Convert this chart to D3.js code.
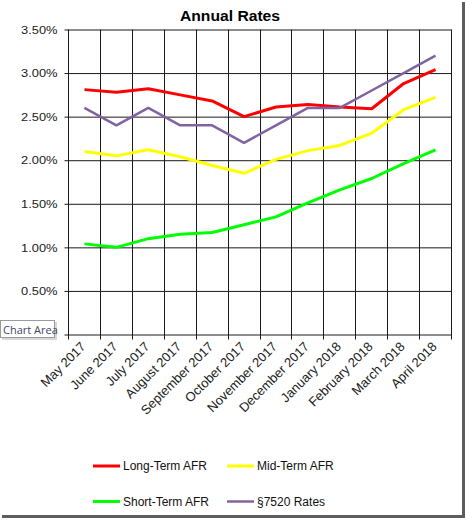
<!DOCTYPE html>
<html>
<head>
<meta charset="utf-8">
<script src="https://cdn.jsdelivr.net/npm/d3@7"></script>
<style>
  body { margin: 0; background: #fff; }
  svg { display: block; font-family: "Liberation Sans", Arial, sans-serif; }
</style>
</head>
<body>
<svg id="chart" width="466" height="520"></svg>
<script>
// Data (annual rates, %)
const months = ["May 2017", "June 2017", "July 2017", "August 2017", "September 2017",
  "October 2017", "November 2017", "December 2017", "January 2018", "February 2018",
  "March 2018", "April 2018"]
const longTerm = [2.81, 2.78, 2.82, 2.75, 2.68, 2.50, 2.61, 2.64, 2.61, 2.59, 2.88, 3.04]
const midTerm = [2.10, 2.05, 2.12, 2.04, 1.94, 1.85, 2.01, 2.11, 2.17, 2.31, 2.58, 2.72]
const shortTerm = [1.04, 1.00, 1.10, 1.15, 1.17, 1.26, 1.35, 1.51, 1.66, 1.79, 1.96, 2.12]
const rates7520 = [2.6, 2.4, 2.6, 2.4, 2.4, 2.2, 2.4, 2.6, 2.6, 2.8, 3.0, 3.2]
const yTicks = [0, 0.5, 1.0, 1.5, 2.0, 2.5, 3.0, 3.5]

const series = [
  {name: "Long-Term AFR", values: longTerm, color: "#ff0000", width: 3},
  {name: "Mid-Term AFR", values: midTerm, color: "#ffff00", width: 3},
  {name: "Short-Term AFR", values: shortTerm, color: "#00ff00", width: 3},
  {name: "§7520 Rates", values: rates7520, color: "#8064a2", width: 2.5}
]

const svg = d3.select("#chart")

// frame shadow (right and bottom)
svg.append("rect").attr("x", 462).attr("y", 2).attr("width", 3).attr("height", 516).attr("fill", "#5e5e5e")
svg.append("rect").attr("x", 2).attr("y", 515).attr("width", 463).attr("height", 3).attr("fill", "#5e5e5e")

const plotL = 68.5, plotR = 451.5, plotT = 29.5, plotB = 334.5

const x = d3.scaleBand().domain(months).range([plotL, plotR])
const y = d3.scaleLinear().domain([0, 3.5]).range([plotB, plotT])

const plot = svg.append("g")

// horizontal gridlines + y axis (0.00% sits under the hover tip, so no label)
const yAxis = d3.axisLeft(y)
    .tickValues(yTicks)
    .tickSize(-(plotR - plotL))
    .tickSizeOuter(0)
    .tickFormat(d => d === 0 ? "" : d3.format(".2f")(d) + "%")
plot.append("g")
    .attr("transform", `translate(${plotL},0)`)
    .call(yAxis)
    .call(g => g.select(".domain").remove())
    .call(g => g.selectAll("line").attr("stroke", "#1a1a1a").attr("x1", -4))
    .call(g => g.selectAll("text")
      .attr("x", 0)
      .attr("transform", "translate(-11,0) scale(1.12,1)")
      .attr("font-size", 11.5)
      .attr("fill", "#222")
      .attr("font-family", "Liberation Sans, Arial, sans-serif"))

// vertical gridlines at category boundaries
const bounds = months.map(m => x(m)).concat([plotR])
plot.append("g").selectAll("line")
  .data(bounds)
  .join("line")
    .attr("x1", d => Math.round(d - 0.5) + 0.5)
    .attr("x2", d => Math.round(d - 0.5) + 0.5)
    .attr("y1", plotT)
    .attr("y2", plotB + 5)
    .attr("stroke", "#1a1a1a")

// x axis labels
plot.append("g").selectAll("text")
  .data(months)
  .join("text")
    .attr("transform", d => `translate(${x(d) + x.bandwidth() / 2 + 2},${plotB + 13}) rotate(-45)`)
    .attr("text-anchor", "end")
    .attr("font-size", 13)
    .attr("fill", "#222")
    .text(d => d)

// series lines
const line = d3.line()
    .x((d, i) => x(months[i]) + x.bandwidth() / 2)
    .y(d => y(d))

plot.append("g").selectAll("path")
  .data(series)
  .join("path")
    .attr("d", d => line(d.values))
    .attr("fill", "none")
    .attr("stroke", d => d.color)
    .attr("stroke-width", d => d.width)
    .attr("stroke-linejoin", "round")

// title
svg.append("text")
    .attr("transform", "translate(230,21) scale(1.08,1)")
    .attr("text-anchor", "middle")
    .attr("font-size", 14.5)
    .attr("font-weight", "bold")
    .text("Annual Rates")

// legend
const legendPos = [[93, 466], [227, 466], [93, 501.5], [227, 501.5]]
const legend = svg.append("g").selectAll("g")
  .data(series)
  .join("g")
    .attr("transform", (d, i) => `translate(${legendPos[i][0]},${legendPos[i][1]})`)
legend.append("line")
    .attr("x1", 0).attr("x2", 27)
    .attr("stroke", d => d.color)
    .attr("stroke-width", d => d.width)
legend.append("text")
    .attr("x", 30)
    .attr("dy", "0.36em")
    .attr("font-size", 12)
    .attr("fill", "#111")
    .text(d => d.name)

// "Chart Area" hover tip
const tip = svg.append("g")
tip.append("rect").attr("x", 2).attr("y", 322).attr("width", 55).attr("height", 18).attr("fill", "#d8d8d8")
tip.append("rect").attr("x", 0.5).attr("y", 320.5).attr("width", 54).attr("height", 17)
    .attr("fill", "#fff").attr("stroke", "#9a9a9a")
tip.append("text")
    .attr("x", 3).attr("y", 333.5)
    .attr("font-size", 11)
    .attr("font-family", "'Open Sans', 'DejaVu Sans', sans-serif")
    .attr("fill", "#3d4a66")
    .text("Chart Area")
</script>
</body>
</html>
